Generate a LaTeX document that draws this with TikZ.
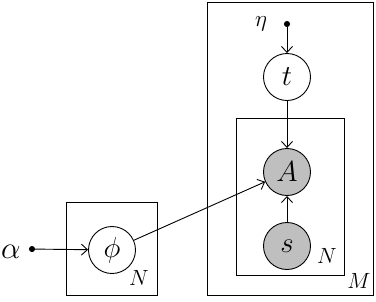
\RequirePackage{fix-cm}
\documentclass[tikz,border=0pt]{standalone}
\usetikzlibrary{arrows.meta}

\begin{document}
\begin{tikzpicture}[x=1pt, y=-1pt, line width=0.9pt,
    var/.style={draw, circle, minimum size=47pt, inner sep=0pt, font=\fontsize{29}{29}\selectfont},
    obs/.style={var, fill=black!25},
    lbl/.style={inner sep=0pt, font=\fontsize{22}{22}\selectfont},
    edge/.style={-{Straight Barb[length=6pt,width=11pt]}},
    hyper/.style={{Circle[length=6pt]}-{Straight Barb[length=6pt,width=11pt]}}]
  \useasboundingbox (0,0) rectangle (376,301);
  % plates: left N, outer M, inner N
  \draw (66,202) rectangle (157,295);
  \draw (207,2) rectangle (373,295);
  \draw (236,118) rectangle (344,275);
  \node[lbl] (nl) at (139,278) {$N$};
  \node[lbl] (nr) at (327,256) {$N$};
  \node[lbl] (m) at (359,281) {$M$};
  % variables
  \node[var] (phi) at (112,250) {$\phi$};
  \node[var] (t) at (287,77) {$t$};
  \node[obs] (A) at (287,172) {$A$};
  \node[obs] (s) at (287,246) {$s$};
  % hyperparameters
  \coordinate (a0) at (29,249);
  \coordinate (e0) at (287,21);
  \node[inner sep=0pt, font=\fontsize{31}{31}\selectfont] (alpha) at (11,252) {$\alpha$};
  \node[inner sep=0pt, font=\fontsize{23}{23}\selectfont] (eta) at (261,24) {$\eta$};
  % edges
  \draw[hyper] (a0) -- (phi);
  \draw[hyper] (e0) -- (t);
  \draw[edge] (t) -- (A);
  \draw[edge] (s) -- (A);
  \draw[edge] (phi) -- (A);
\end{tikzpicture}
\end{document}
